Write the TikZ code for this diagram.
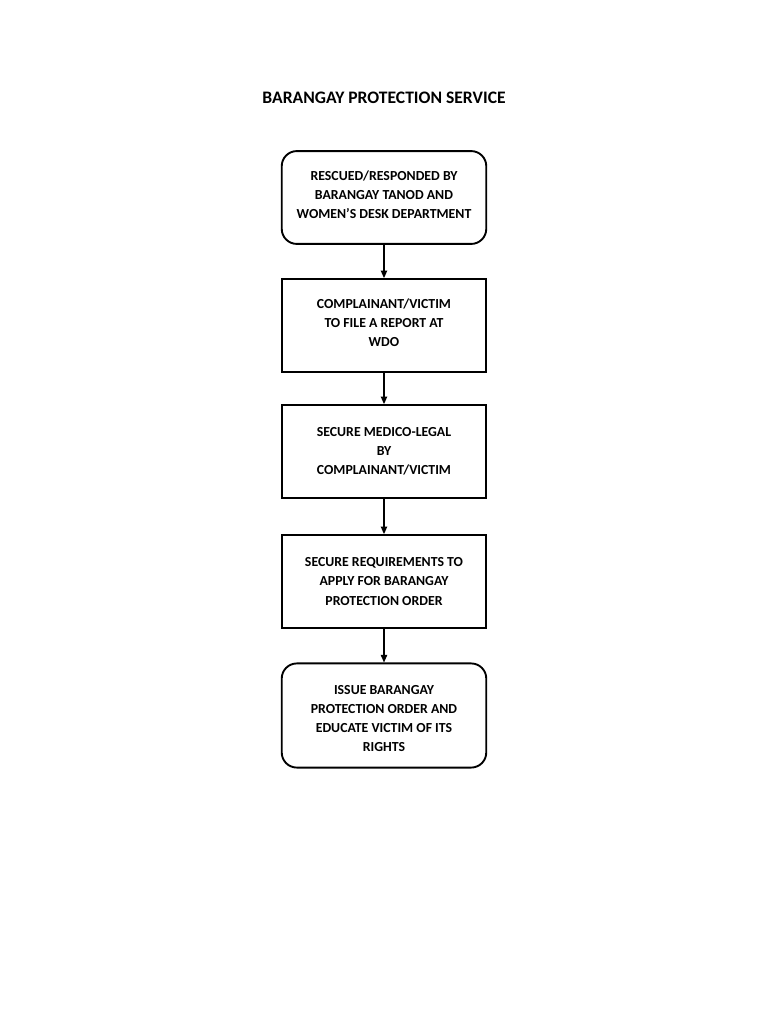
\documentclass[tikz,border=0pt]{standalone}
\usepackage{fontspec}
\setmainfont{Carlito}
\usetikzlibrary{arrows.meta}

\begin{document}
\begin{tikzpicture}[x=0.797pt, y=-0.797pt, >={Triangle[length=6pt, width=5pt]},
    stagebox/.style={draw, line width=1.5pt, minimum width=163pt, minimum height=74pt,
      align=center, font=\fontsize{11}{15.2}\selectfont\bfseries, inner sep=2pt},
    roundbox/.style={stagebox, rounded corners=12pt},
    raisetext/.style={text depth=5pt},
    flow/.style={->, line width=1.1pt}]
    \useasboundingbox (0,0) rectangle (768,1024);

    \node[font=\fontsize{14}{16}\selectfont\bfseries] (title) at (384,98) {BARANGAY PROTECTION SERVICE};

    \node[roundbox, raisetext] (rescue) at (384,197.5) {RESCUED/RESPONDED BY\\BARANGAY TANOD AND\\WOMEN’S DESK DEPARTMENT};
    \node[stagebox, raisetext] (report) at (384,325.5) {COMPLAINANT/VICTIM\\TO FILE A REPORT AT\\WDO};
    \node[stagebox] (medico) at (384,451.5) {SECURE MEDICO-LEGAL\\BY\\COMPLAINANT/VICTIM};
    \node[stagebox] (require) at (384,581.5) {SECURE REQUIREMENTS TO\\APPLY FOR BARANGAY\\PROTECTION ORDER};
    \node[roundbox, minimum height=83pt] (issue) at (384,715.5) {\rule{0pt}{12pt}ISSUE BARANGAY\\PROTECTION ORDER AND\\EDUCATE VICTIM OF ITS\\RIGHTS};

    \draw[flow] (rescue) -- (report);
    \draw[flow] (report) -- (medico);
    \draw[flow] (medico) -- (require);
    \draw[flow] (require) -- (issue);
\end{tikzpicture}
\end{document}
